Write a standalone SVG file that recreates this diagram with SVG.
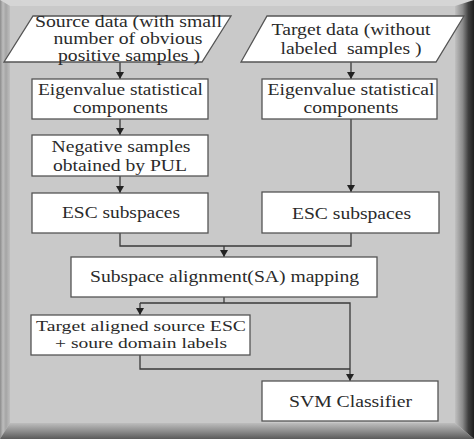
<svg xmlns="http://www.w3.org/2000/svg" width="474" height="439" viewBox="0 0 474 439">
<defs>
<linearGradient id="gl" x1="0" y1="0" x2="1" y2="0">
<stop offset="0" stop-color="#8c8c8c"/>
<stop offset="0.3" stop-color="#bdbdbd"/>
<stop offset="0.6" stop-color="#a5a5a5"/>
<stop offset="1" stop-color="#bebebe"/>
</linearGradient>
<linearGradient id="gr" x1="0" y1="0" x2="1" y2="0">
<stop offset="0" stop-color="#c0c0c0"/>
<stop offset="0.4" stop-color="#8a8a8a"/>
<stop offset="0.7" stop-color="#404040"/>
<stop offset="1" stop-color="#1e1e1e"/>
</linearGradient>
<linearGradient id="gb" x1="0" y1="0" x2="0" y2="1">
<stop offset="0" stop-color="#bdbdbd"/>
<stop offset="0.5" stop-color="#8e8e8e"/>
<stop offset="1" stop-color="#5a5a5a"/>
</linearGradient>
<marker id="ah" markerWidth="8" markerHeight="8" refX="7" refY="4" orient="auto" markerUnits="userSpaceOnUse">
<path d="M0,0 L7,4 L0,8 Z" fill="#222"/>
</marker>
<style>
.box{fill:#fff;stroke:#555;stroke-width:1.3}
.t{font-family:"Liberation Serif","Times New Roman",serif;font-size:16px;fill:#2a2a2a;text-anchor:middle}
.s{font-size:15px}
.c{fill:none;stroke:#3a3a3a;stroke-width:1.3}
</style>
</defs>
<g id="frame">
<rect x="0" y="0" width="474" height="439" fill="#c9c9c9"/>
<polygon points="0,0 474,0 463,6 10,6" fill="#d5d5d5"/>
<polygon points="0,0 10,6 10,423 0,439" fill="url(#gl)"/>
<polygon points="474,0 474,439 455,423 455,6" fill="url(#gr)"/>
<polygon points="0,439 474,439 455,423 10,423" fill="url(#gb)"/>
</g>
<g id="connectors">
<line class="c" x1="120" y1="62" x2="120" y2="79" marker-end="url(#ah)"/>
<line class="c" x1="120" y1="119" x2="120" y2="135" marker-end="url(#ah)"/>
<line class="c" x1="120" y1="176" x2="120" y2="193" marker-end="url(#ah)"/>
<line class="c" x1="351" y1="62" x2="351" y2="79" marker-end="url(#ah)"/>
<line class="c" x1="351" y1="119" x2="351" y2="192" marker-end="url(#ah)"/>
<polyline class="c" points="120,233 120,246 351,246 351,233"/>
<line class="c" x1="224" y1="246" x2="224" y2="257" marker-end="url(#ah)"/>
<line class="c" x1="224" y1="297" x2="224" y2="303"/>
<polyline class="c" points="140,303 350,303 350,381" marker-end="url(#ah)"/>
<line class="c" x1="140" y1="303" x2="140" y2="315" marker-end="url(#ah)"/>
<polyline class="c" points="140,355 140,369 350,369"/>
</g>
<g id="source">
<polygon class="box" points="33,16 231,16 202,62 4,62"/>
<text class="t" x="128.5" y="27" textLength="187" lengthAdjust="spacingAndGlyphs">Source data (with small</text>
<text class="t" x="128" y="44" textLength="149" lengthAdjust="spacingAndGlyphs">number of obvious</text>
<text class="t" x="129" y="61" textLength="142" lengthAdjust="spacingAndGlyphs">positive samples )</text>
</g>
<g id="target">
<polygon class="box" points="267,16 464,16 436,62 241,62"/>
<text class="t" x="351" y="35" textLength="159" lengthAdjust="spacingAndGlyphs">Target data (without</text>
<text class="t" x="351" y="54" textLength="141" lengthAdjust="spacingAndGlyphs" xml:space="preserve">labeled  samples )</text>
</g>
<g id="eig-left">
<rect class="box" x="32" y="79" width="176" height="40"/>
<text class="t" x="120.5" y="95" textLength="165" lengthAdjust="spacingAndGlyphs">Eigenvalue statistical</text>
<text class="t" x="120.5" y="113" textLength="95" lengthAdjust="spacingAndGlyphs">components</text>
</g>
<g id="eig-right">
<rect class="box" x="262" y="79" width="175" height="40"/>
<text class="t" x="351" y="95" textLength="167" lengthAdjust="spacingAndGlyphs">Eigenvalue statistical</text>
<text class="t" x="351" y="113" textLength="95" lengthAdjust="spacingAndGlyphs">components</text>
</g>
<g id="negative">
<rect class="box" x="32" y="135" width="176" height="41"/>
<text class="t" x="121" y="152" textLength="139" lengthAdjust="spacingAndGlyphs">Negative samples</text>
<text class="t" x="120" y="171" textLength="134" lengthAdjust="spacingAndGlyphs">obtained by PUL</text>
</g>
<g id="esc-left">
<rect class="box" x="32" y="193" width="176" height="40"/>
<text class="t" x="121" y="218" textLength="118" lengthAdjust="spacingAndGlyphs">ESC subspaces</text>
</g>
<g id="esc-right">
<rect class="box" x="262" y="192" width="177" height="41"/>
<text class="t" x="351.5" y="219" textLength="119" lengthAdjust="spacingAndGlyphs">ESC subspaces</text>
</g>
<g id="sa">
<rect class="box" x="71" y="257" width="306" height="40"/>
<text class="t" x="224.5" y="282" textLength="269" lengthAdjust="spacingAndGlyphs">Subspace alignment(SA) mapping</text>
</g>
<g id="aligned">
<rect class="box" x="31" y="315" width="219" height="40"/>
<text class="t s" x="141" y="331" textLength="210" lengthAdjust="spacingAndGlyphs">Target aligned source ESC</text>
<text class="t s" x="141" y="348" textLength="172" lengthAdjust="spacingAndGlyphs">+ soure domain labels</text>
</g>
<g id="svm">
<rect class="box" x="262" y="381" width="176" height="40"/>
<text class="t" x="350.5" y="407" textLength="123" lengthAdjust="spacingAndGlyphs">SVM Classifier</text>
</g>
</svg>
